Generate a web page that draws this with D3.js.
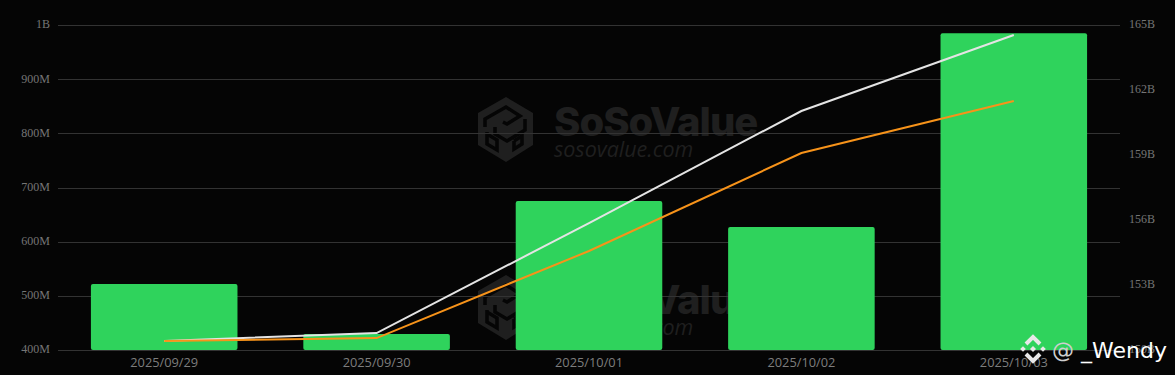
<!DOCTYPE html>
<html>
<head>
<meta charset="utf-8">
<script src="https://cdn.jsdelivr.net/npm/d3@7"></script>
<style>
    html, body { margin: 0; padding: 0; background: #050505; overflow: hidden; }
    svg { display: block; }
</style>
</head>
<body>
<div id="chart"></div>
<script>
// Values
const dates = ['2025/09/29', '2025/09/30', '2025/10/01', '2025/10/02', '2025/10/03'];
const barValues = [522e6, 429.5e6, 675e6, 627e6, 985e6];
const whiteLine = [150.42e9, 150.78e9, 155.86e9, 161.03e9, 164.54e9];
const orangeLine = [150.42e9, 150.55e9, 154.57e9, 159.09e9, 161.49e9];
const leftTicks = [400e6, 500e6, 600e6, 700e6, 800e6, 900e6, 1000e6];
const rightTicks = [150e9, 153e9, 156e9, 159e9, 162e9, 165e9];

const width = 1175;
const height = 375;
const margin = { top: 25, right: 55, bottom: 25, left: 58 };

const svg = d3.select('#chart').append('svg')
    .attr('width', width)
    .attr('height', height);

const x = d3.scaleBand()
    .domain(dates)
    .range([margin.left, width - margin.right])
    .paddingInner(0.31)
    .paddingOuter(0.155);

const yLeft = d3.scaleLinear()
    .domain([400e6, 1000e6])
    .range([height - margin.bottom, margin.top]);

const yRight = d3.scaleLinear()
    .domain([150e9, 165e9])
    .range([height - margin.bottom, margin.top]);

drawWatermark(478, 97);
drawWatermark(478, 275);

// Grid
svg.append('g')
    .selectAll('line')
    .data(leftTicks)
    .join('line')
    .attr('x1', margin.left)
    .attr('x2', width - margin.right)
    .attr('y1', d => Math.round(yLeft(d)) + 0.5)
    .attr('y2', d => Math.round(yLeft(d)) + 0.5)
    .attr('stroke', '#333333');

// Bars
svg.append('g')
    .selectAll('rect')
    .data(dates)
    .join('rect')
    .attr('x', d => x(d))
    .attr('width', x.bandwidth())
    .attr('y', (d, i) => yLeft(barValues[i]))
    .attr('height', (d, i) => yLeft(400e6) - yLeft(barValues[i]))
    .attr('rx', 2)
    .attr('fill', '#2fd35c');

// Lines
const line = d3.line()
    .x((d, i) => x(dates[i]) + x.bandwidth() / 2)
    .y(d => yRight(d));

svg.append('path')
    .datum(whiteLine)
    .attr('fill', 'none')
    .attr('stroke', '#e4e4e4')
    .attr('stroke-width', 2)
    .attr('d', line);

svg.append('path')
    .datum(orangeLine)
    .attr('fill', 'none')
    .attr('stroke', '#f7931a')
    .attr('stroke-width', 2)
    .attr('d', line);

// Axes
const leftAxis = svg.append('g')
    .attr('transform', `translate(${margin.left - 8},-1)`)
    .call(d3.axisLeft(yLeft).tickValues(leftTicks).tickSize(0).tickPadding(0)
        .tickFormat(d => d >= 1e9 ? d / 1e9 + 'B' : d / 1e6 + 'M'));

const rightAxis = svg.append('g')
    .attr('transform', `translate(${width - margin.right + 9},-1)`)
    .call(d3.axisRight(yRight).tickValues(rightTicks).tickSize(0).tickPadding(0)
        .tickFormat(d => d / 1e9 + 'B'));

[leftAxis, rightAxis].forEach(axis => {
    axis.select('.domain').remove();
    axis.selectAll('text')
        .attr('fill', '#757575')
        .style('font-family', '"Liberation Serif", serif')
        .style('font-size', '12px');
});

const bottomAxis = svg.append('g')
    .attr('transform', `translate(0,${height - margin.bottom})`)
    .call(d3.axisBottom(x).tickSize(0).tickPadding(8));

bottomAxis.select('.domain').remove();
bottomAxis.selectAll('text')
    .attr('fill', '#7d7d7d')
    .style('font-family', '"Open Sans", "Noto Sans", sans-serif')
    .style('font-size', '12.8px');

drawBadge(1033, 349);

function drawWatermark(left, top) {
    const g = svg.append('g').attr('transform', `translate(${left},${top})`);
    const color = '#1f1f1f';

    // solid hexagon with the dark cube lines cut into it
    const hex = d3.line()([[28, 0], [55, 16], [55, 48], [28, 65], [0, 48], [0, 16]]) + 'Z';
    g.append('path')
        .attr('d', hex)
        .attr('fill', color);

    const inner = [
        [[7, 30], [7, 22], [28, 10], [42, 19], [29, 27], [25, 25]],
        [[47, 22], [47, 33], [29, 44], [17, 37], [17, 30]],
        [[9, 35], [9, 47], [19, 53], [19, 43], [9, 37]],
        [[36, 44], [44, 39], [44, 47], [36, 52], [36, 44]]
    ];
    g.selectAll('path.inner')
        .data(inner)
        .join('path')
        .attr('class', 'inner')
        .attr('d', d3.line())
        .attr('fill', 'none')
        .attr('stroke', '#050505')
        .attr('stroke-width', 3.5);

    g.append('text')
        .attr('x', 76)
        .attr('y', 39)
        .attr('fill', color)
        .style('font-family', 'Inter, "Liberation Sans", sans-serif')
        .style('font-weight', 800)
        .style('font-size', '40px')
        .style('letter-spacing', '-1px')
        .text('SoSoValue');

    g.append('text')
        .attr('x', 76)
        .attr('y', 60)
        .attr('fill', color)
        .style('font-family', '"Open Sans", sans-serif')
        .style('font-style', 'italic')
        .style('font-size', '21.5px')
        .text('sosovalue.com');
}

function drawBadge(cx, cy) {
    const g = svg.append('g').attr('transform', `translate(${cx},${cy})`);
    const color = '#e8e8e8';

    const diamonds = [[-10, 0, 2.8], [10, 0, 2.8], [0, 0, 3]];
    g.selectAll('path.dot')
        .data(diamonds)
        .join('path')
        .attr('class', 'dot')
        .attr('d', d => d3.line()([[d[0], d[1] - d[2]], [d[0] + d[2], d[1]], [d[0], d[1] + d[2]], [d[0] - d[2], d[1]]]) + 'Z')
        .attr('fill', color);

    const chevrons = [
        [[-7, -5], [0, -12], [7, -5]],
        [[-7, 5], [0, 12], [7, 5]]
    ];
    g.selectAll('path.chevron')
        .data(chevrons)
        .join('path')
        .attr('class', 'chevron')
        .attr('d', d3.line())
        .attr('fill', 'none')
        .attr('stroke', color)
        .attr('stroke-width', 4);

    const label = svg.append('text')
        .attr('x', 1052)
        .attr('y', 358)
        .attr('fill', '#ffffff')
        .style('font-family', '"DejaVu Sans", sans-serif')
        .style('font-size', '22px');
    label.append('tspan').attr('fill', '#cfcfcf').text('@');
    label.append('tspan').text(' _Wendy');
}
</script>
</body>
</html>
